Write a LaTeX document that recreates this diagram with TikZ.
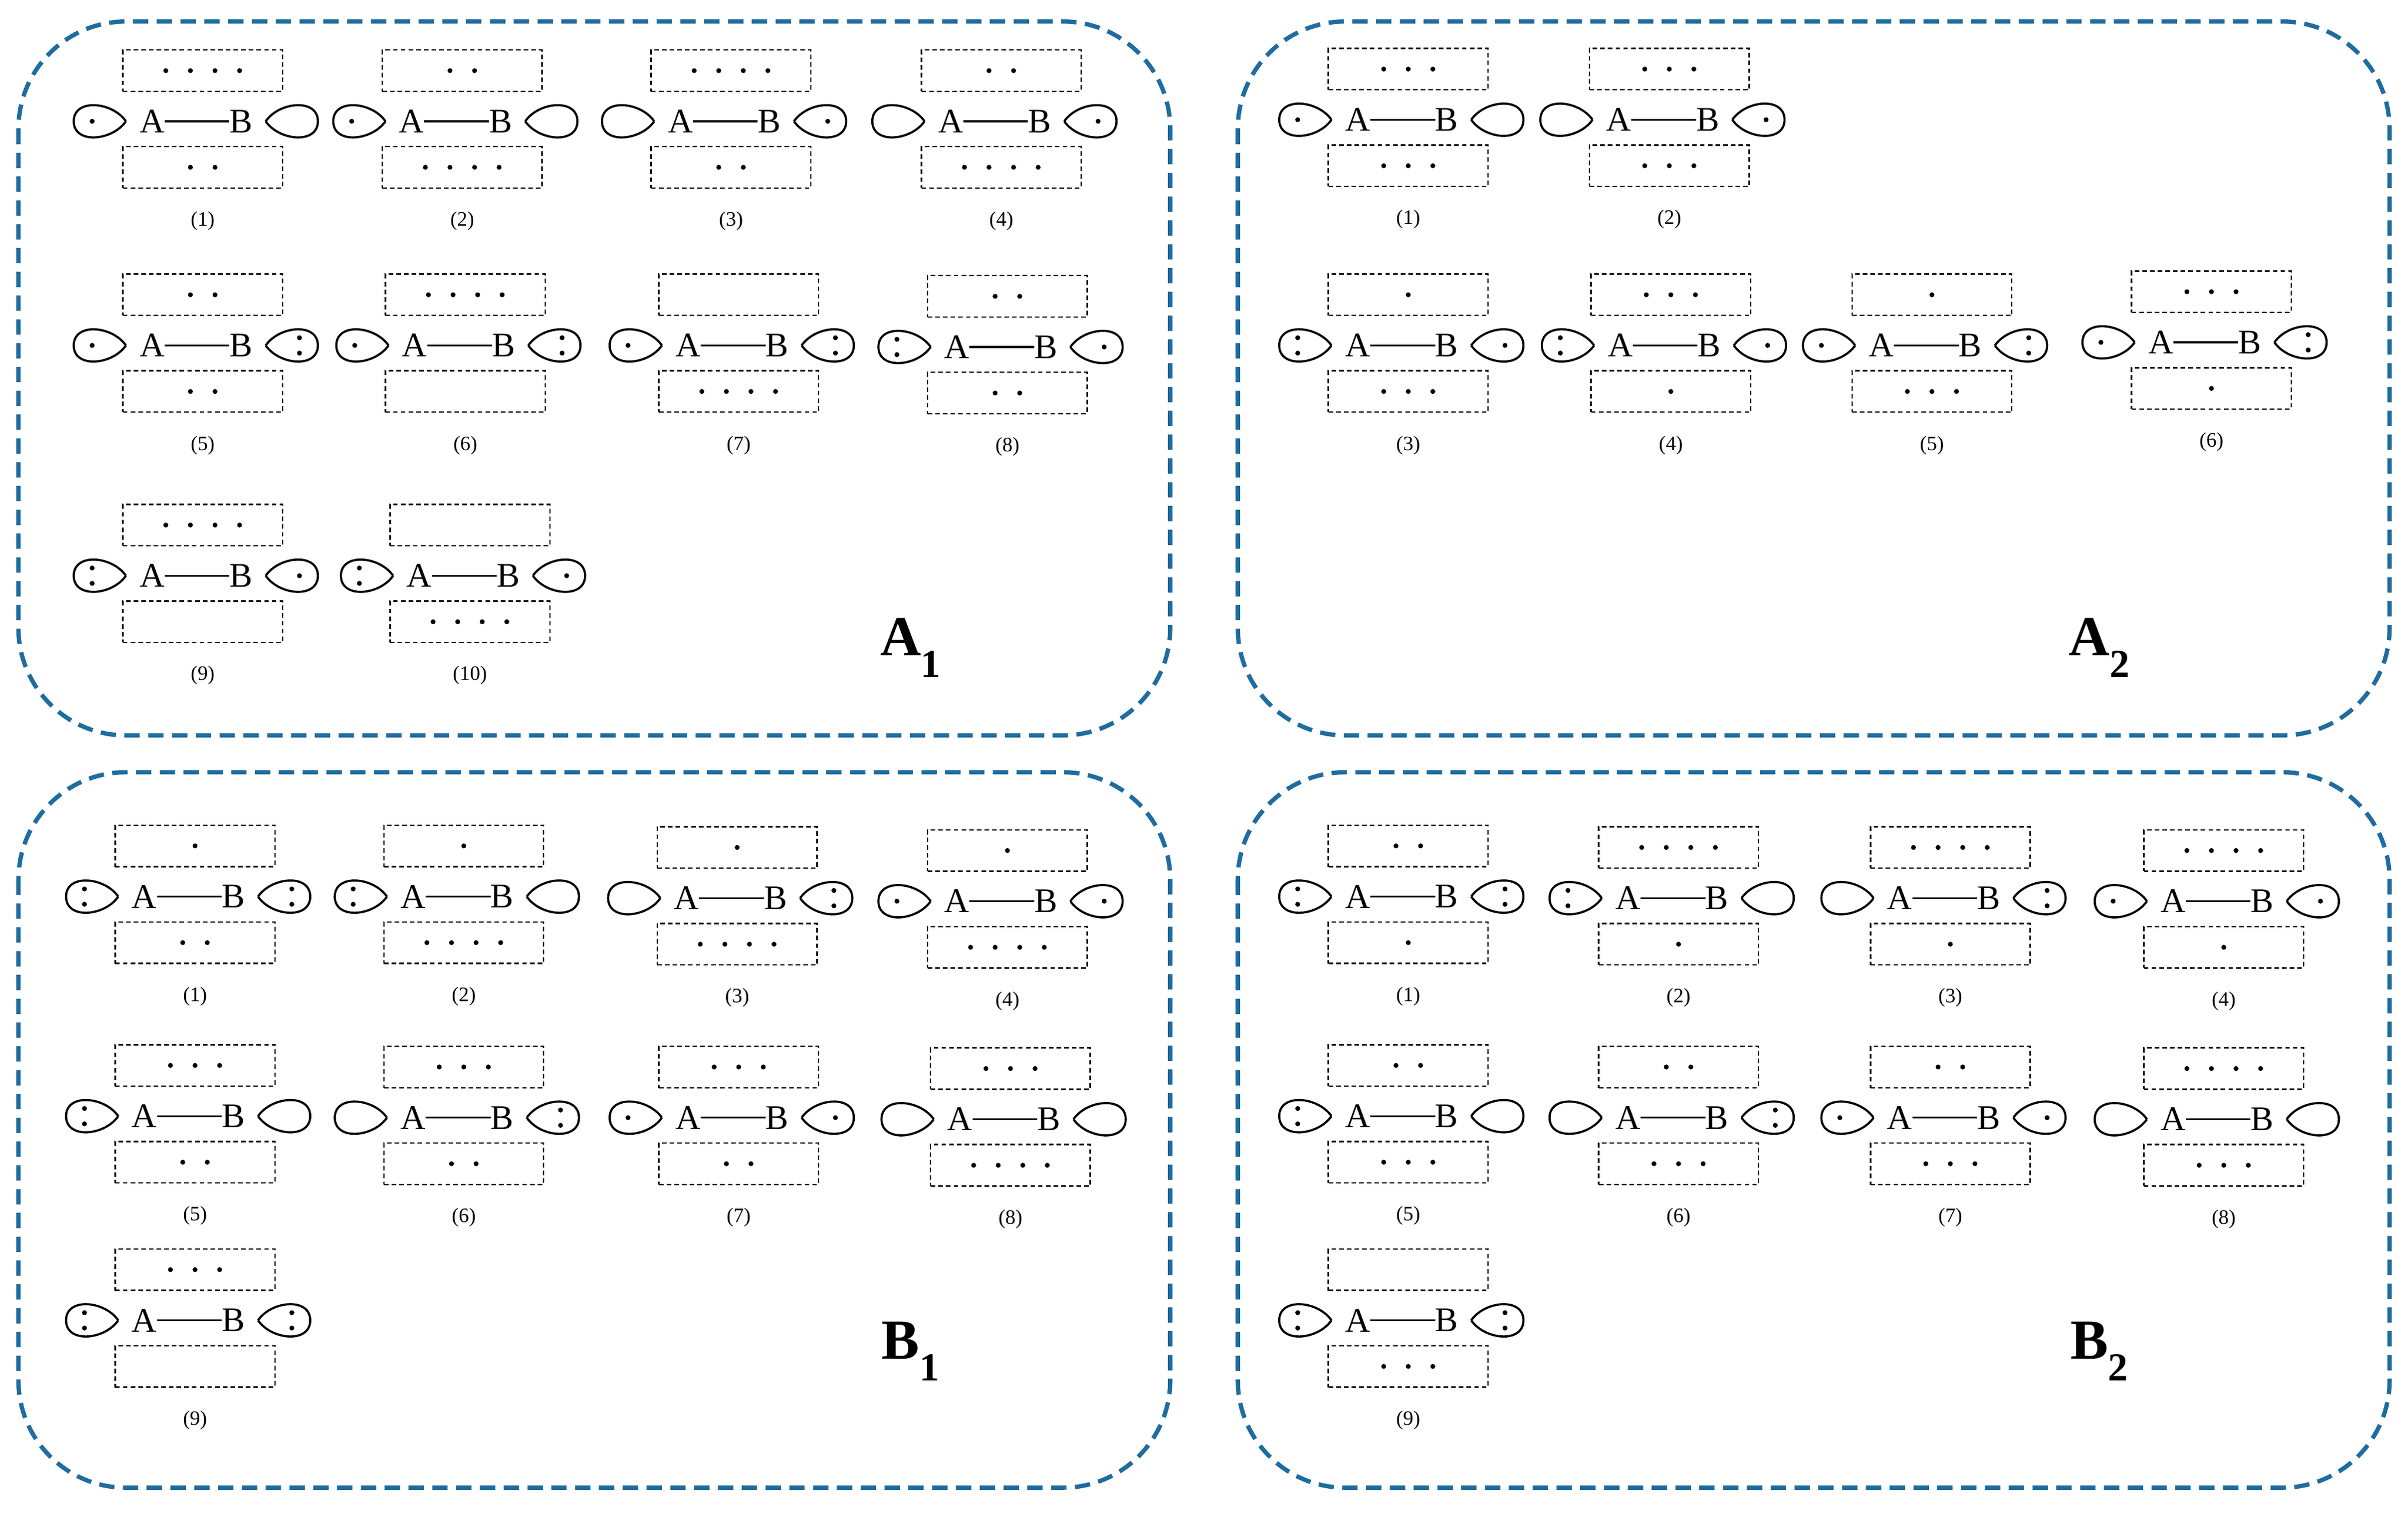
\documentclass[tikz,border=0pt]{standalone}
\usepackage{fontspec}
\setmainfont{Liberation Serif}
\begin{document}
\definecolor{panelblue}{RGB}{30,108,160}
\tikzset{
  panel/.style={draw=panelblue,line width=8pt,dash pattern=on 1cm off 0.55cm,rounded corners=7cm},
  ebox/.style={draw,line width=2.6pt,dash pattern=on 0.3cm off 0.2cm,minimum width=10.4cm,minimum height=2.7cm,inner sep=0pt},
  atom/.style={inner sep=0pt,font=\fontsize{64}{70}\selectfont},
  bond/.style={line width=3.5pt},
  lobe/.style={line width=4pt,line join=round},
  lab/.style={font=\fontsize{38}{44}\selectfont},
  big/.style={font=\fontsize{105}{110}\selectfont\bfseries}
}
\newcommand\dotrow[1]{% n dots centred at origin
  \ifnum#1>0 \foreach \i in {1,...,#1}{\fill ({(\i-(#1+1)/2)*16},0) circle (1.6);}\fi}
\newcommand\lobedots[1]{%
  \ifnum#1=1 \fill (-5,0) circle (1.6);\fi
  \ifnum#1=2 \fill (-5,-5) circle (1.6); \fill (-5,5) circle (1.6);\fi}
\newcommand\lobepath{(17,0) .. controls (8,-13) and (-17,-15) .. (-17,0) .. controls (-17,15) and (8,13) .. (17,0)}
% \mol{cx}{cy}{left}{right}{top}{bottom}{label}{name}
\newcommand\mol[8]{%
  \begin{scope}[shift={(#1,#2)}]
    \node[atom] (#8a) at (-33,0) {A};
    \node[atom] (#8b) at (25,0) {B};
    \draw[bond] (#8a.east) -- (#8b.west);
    \begin{scope}[shift={(-67,0)}]
      \draw[lobe] \lobepath; \lobedots{#3}
    \end{scope}
    \begin{scope}[shift={(58,0)},xscale=-1]
      \draw[lobe] \lobepath; \lobedots{#4}
    \end{scope}
    \node[ebox] (#8t) at (0,-33) {};
    \begin{scope}[shift={(0,-33)}]\dotrow{#5}\end{scope}
    \node[ebox] (#8u) at (0,30) {};
    \begin{scope}[shift={(0,30)}]\dotrow{#6}\end{scope}
    \node[lab] (#8l) at (0,65) {(#7)};
  \end{scope}}
\begin{tikzpicture}[x=0.1cm,y=-0.1cm]
\useasboundingbox (0,0) rectangle (1568,986);
\draw[panel] (12,14) rectangle (762,479);
\draw[panel] (806,14) rectangle (1556,479);
\draw[panel] (12,503) rectangle (762,969);
\draw[panel] (806,503) rectangle (1556,969);
% A1
\mol{132}{79}{1}{0}{4}{2}{1}{aa1}
\mol{301}{79}{1}{0}{2}{4}{2}{aa2}
\mol{476}{79}{0}{1}{4}{2}{3}{aa3}
\mol{652}{79}{0}{1}{2}{4}{4}{aa4}
\mol{132}{225}{1}{2}{2}{2}{5}{aa5}
\mol{303}{225}{1}{2}{4}{0}{6}{aa6}
\mol{481}{225}{1}{2}{0}{4}{7}{aa7}
\mol{656}{226}{2}{1}{2}{2}{8}{aa8}
\mol{132}{375}{2}{1}{4}{0}{9}{aa9}
\mol{306}{375}{2}{1}{0}{4}{10}{aa10}
\node[big] (tA1) at (593,422) {A$_{\mathbf 1}$};
% A2
\mol{917}{78}{1}{0}{3}{3}{1}{ab1}
\mol{1087}{78}{0}{1}{3}{3}{2}{ab2}
\mol{917}{225}{2}{1}{1}{3}{3}{ab3}
\mol{1088}{225}{2}{1}{3}{1}{4}{ab4}
\mol{1258}{225}{1}{2}{1}{3}{5}{ab5}
\mol{1440}{223}{1}{2}{3}{1}{6}{ab6}
\node[big] (tA2) at (1367,422) {A$_{\mathbf 2}$};
% B1
\mol{127}{584}{2}{2}{1}{2}{1}{ba1}
\mol{302}{584}{2}{0}{1}{4}{2}{ba2}
\mol{480}{585}{0}{2}{1}{4}{3}{ba3}
\mol{656}{587}{1}{1}{1}{4}{4}{ba4}
\mol{127}{727}{2}{0}{3}{2}{5}{ba5}
\mol{302}{728}{0}{2}{3}{2}{6}{ba6}
\mol{481}{728}{1}{1}{3}{2}{7}{ba7}
\mol{658}{729}{0}{0}{3}{4}{8}{ba8}
\mol{127}{860}{2}{2}{3}{0}{9}{ba9}
\node[big] (tB1) at (593,880) {B$_{\mathbf 1}$};
% B2
\mol{917}{584}{2}{2}{2}{1}{1}{bb1}
\mol{1093}{585}{2}{0}{4}{1}{2}{bb2}
\mol{1270}{585}{0}{2}{4}{1}{3}{bb3}
\mol{1448}{587}{1}{1}{4}{1}{4}{bb4}
\mol{917}{727}{2}{0}{2}{3}{5}{bb5}
\mol{1093}{728}{0}{2}{2}{3}{6}{bb6}
\mol{1270}{728}{1}{1}{2}{3}{7}{bb7}
\mol{1448}{729}{0}{0}{4}{3}{8}{bb8}
\mol{917}{860}{2}{2}{0}{3}{9}{bb9}
\node[big] (tB2) at (1367,880) {B$_{\mathbf 2}$};
\end{tikzpicture}
\end{document}
